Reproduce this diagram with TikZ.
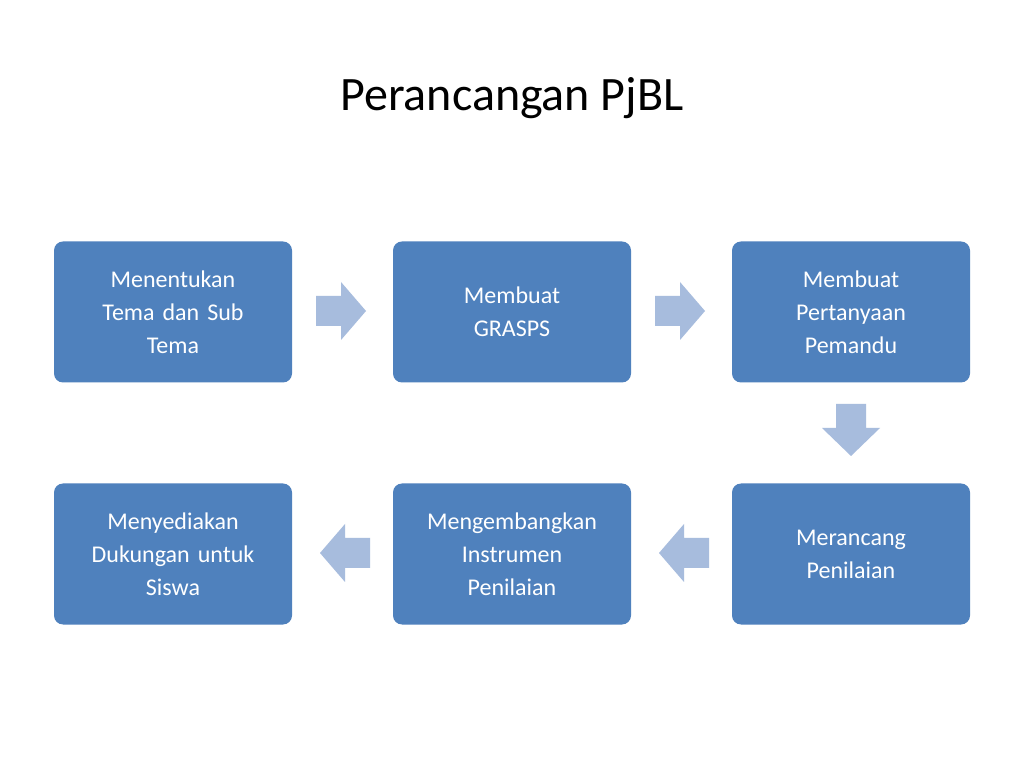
\documentclass[tikz,border=0pt]{standalone}
\usepackage{fontspec}
\setmainfont{Carlito}
\begin{document}
\begin{tikzpicture}[x=1pt,y=1pt,
  box/.style={draw=none,fill=boxblue,rounded corners=9pt,minimum width=238pt,minimum height=141pt,text width=220pt,align=center,text=white,font=\fontsize{24}{33}\selectfont,inner sep=0pt},
  blk/.style={fill=arrowblue,draw=none}]
\definecolor{boxblue}{HTML}{4F81BD}
\definecolor{arrowblue}{HTML}{A7BCDD}
\useasboundingbox (0,0) rectangle (1024,768);
\fill[white] (0,0) rectangle (1024,768);
\node[font=\fontsize{48}{58}\selectfont] (title) at (512,670) {Perancangan PjBL};
\node[box] (b1) at (173,456) {Menentukan\\Tema dan Sub\\Tema};
\node[box] (b2) at (512,456) {\raisebox{10pt}{\parbox{220pt}{\centering Membuat\\GRASPS}}};
\node[box] (b3) at (851,456) {Membuat\\Pertanyaan\\Pemandu};
\node[box] (b4) at (851,214) {Merancang\\Penilaian};
\node[box] (b5) at (512,214) {Mengembangkan\\Instrumen\\Penilaian};
\node[box] (b6) at (173,214) {Menyediakan\\Dukungan untuk\\Siswa};
% right arrows
\foreach \x in {316,655}{
  \fill[blk] (\x,472) -- (\x+25,472) -- (\x+25,486) -- (\x+50,457) -- (\x+25,428) -- (\x+25,442) -- (\x,442) -- cycle;}
% down arrow
\fill[blk] (836,364) -- (836,340) -- (822,340) -- (851,312) -- (880,340) -- (866,340) -- (866,364) -- cycle;
% left arrows
\foreach \x in {370,709}{
  \fill[blk] (\x,230) -- (\x-25,230) -- (\x-25,244) -- (\x-50,215) -- (\x-25,186) -- (\x-25,200) -- (\x,200) -- cycle;}
\end{tikzpicture}
\end{document}
